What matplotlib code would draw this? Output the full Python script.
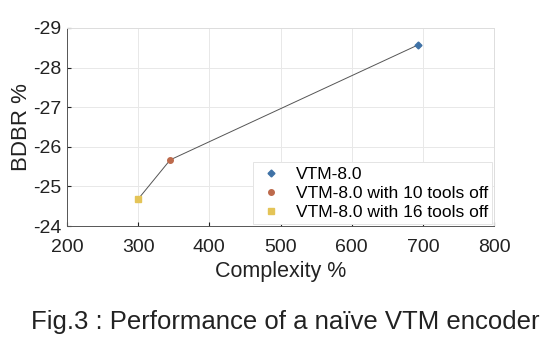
import matplotlib.pyplot as plt

plt.rcParams['font.family'] = ['Liberation Sans', 'DejaVu Sans']
plt.rcParams['axes.unicode_minus'] = False

# data
labels = ['VTM-8.0', 'VTM-8.0 with 10 tools off', 'VTM-8.0 with 16 tools off']
complexity = [693, 345, 300]
bdbr = [-28.57, -25.67, -24.68]
markers = ['D', 'o', 's']
colors = ['#3f72a6', '#bd6a4c', '#e4c457']

xticks = [200, 300, 400, 500, 600, 700, 800]
yticks = [-29, -28, -27, -26, -25, -24]

fig = plt.figure(figsize=(5.46, 3.43), dpi=100)
ax = fig.add_axes([0.1227, 0.3411, 0.7821, 0.5773])

# connecting line
ax.plot(complexity, bdbr, color='#555555', lw=0.7, zorder=2)
for x, y, m, c, lab in zip(complexity, bdbr, markers, colors, labels):
    ax.plot([x], [y], linestyle='none', marker=m, color=c,
            markersize=4 if m != 'D' else 3.5, label=lab, zorder=3)

ax.set_xlim(200, 800)
ax.set_ylim(-24, -29)
ax.set_xticks(xticks)
ax.set_yticks(yticks)
ax.tick_params(direction='in', length=3, labelsize=14, colors='#222222')
ax.tick_params(axis='x', pad=9)
ax.tick_params(axis='y', pad=4)
ax.grid(True, color='#e8e8e8', lw=0.7)
ax.set_axisbelow(True)
for s in ['left', 'bottom']:
    ax.spines[s].set_color('#555555')
    ax.spines[s].set_linewidth(0.7)
for s in ['top', 'right']:
    ax.spines[s].set_color('#dddddd')
    ax.spines[s].set_linewidth(0.7)

ax.set_xlabel('Complexity %', fontsize=15.5, color='#222222', labelpad=4)
ax.set_ylabel('BDBR %', fontsize=16, color='#222222', labelpad=1)

leg = ax.legend(loc='lower right', fontsize=12.5, frameon=True, fancybox=False,
                borderpad=0.25, handletextpad=0.6, labelspacing=0.22,
                handlelength=1.6, borderaxespad=0.1)
leg.get_frame().set_edgecolor('#e4e4e4')
leg.get_frame().set_linewidth(0.7)
leg.get_frame().set_alpha(1)

fig.text(0.522, 0.06, 'Fig.3 : Performance of a naïve VTM encoder',
         ha='center', va='center', fontsize=18.5, color='#222222')

fig.savefig('out.png', dpi=100)
